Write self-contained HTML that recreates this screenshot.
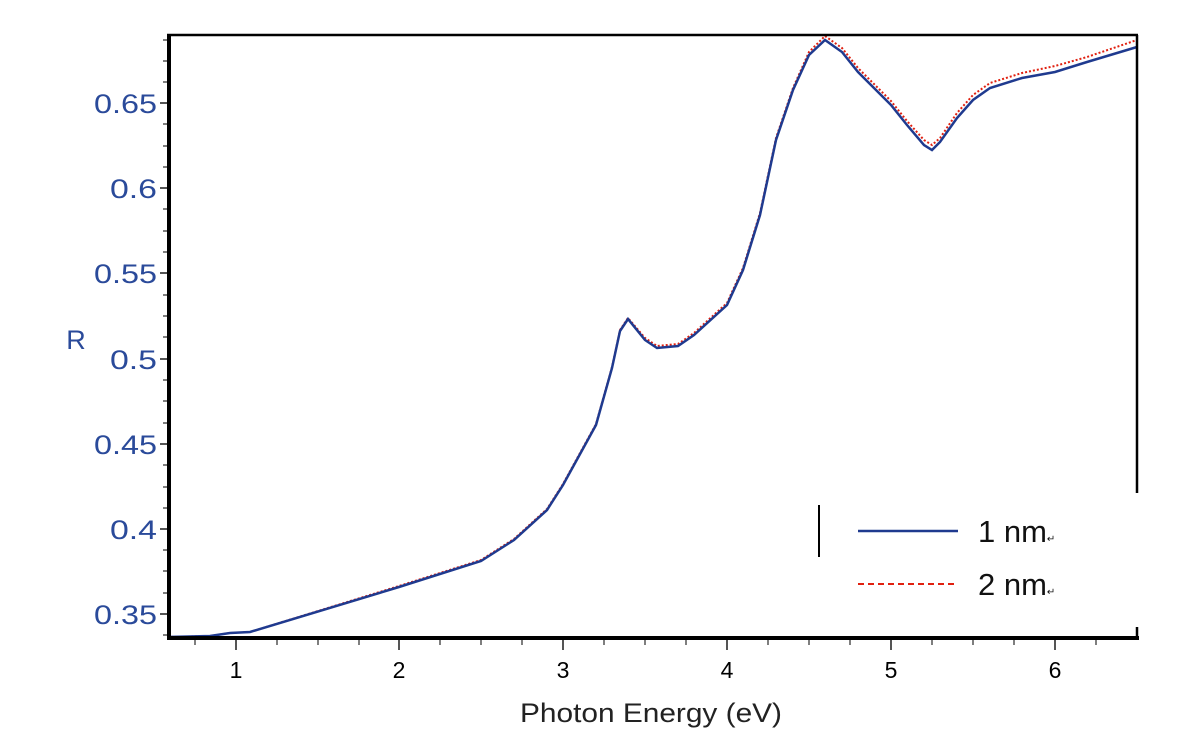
<!DOCTYPE html><html><head><style>body{margin:0;background:#fff}svg{display:block}</style></head><body>
<svg width="1200" height="751" xmlns="http://www.w3.org/2000/svg" font-family="Liberation Sans, Arial, sans-serif">
<rect width="1200" height="751" fill="#fff"/>
<g stroke="#555" stroke-width="2">
<line x1="160" y1="103" x2="169" y2="103"/><line x1="160" y1="188" x2="169" y2="188"/><line x1="160" y1="273" x2="169" y2="273"/><line x1="160" y1="359" x2="169" y2="359"/><line x1="160" y1="444" x2="169" y2="444"/><line x1="160" y1="529" x2="169" y2="529"/><line x1="160" y1="614" x2="169" y2="614"/>
</g>
<g stroke="#555" stroke-width="1.5">
<path d="M163 40H169M163 61H169M163 82H169M163 124H169M163 146H169M163 167H169M163 209H169M163 231H169M163 252H169M163 295H169M163 316H169M163 337H169M163 380H169M163 401H169M163 423H169M163 465H169M163 487H169M163 508H169M163 550H169M163 571H169M163 593H169M163 635H169"/>
<path d="M195 638V645M277 638V645M318 638V645M359 638V645M440 638V645M481 638V645M522 638V645M604 638V645M645 638V645M686 638V645M768 638V645M809 638V645M850 638V645M932 638V645M973 638V645M1014 638V645M1096 638V645"/>
</g>
<g stroke="#555" stroke-width="2"><path d="M236 638V650M399 638V650M563 638V650M727 638V650M891 638V650M1055 638V650"/></g>
<polyline fill="none" stroke="#e02010" stroke-width="2" stroke-dasharray="2,2" points="167,637 210,636 230,633 250,632 399,586 481,560 514,539 547,509 563,484 596,424 612,367 620,330 628,318 645,338 657,346 678,344 694,333 727,303 743,268 760,213 776,138 793,88 809,52 825,36 842,48 858,68 891,101 907,121 924,140 932,145 940,138 957,113 973,95 990,83 1022,73 1055,66 1087,57 1137,40"/>
<polyline fill="none" stroke="#1f3a8f" stroke-width="2.5" points="167,637 210,636 230,633 250,632 399,587 481,561 514,540 547,510 563,485 596,425 612,368 620,331 628,319 645,340 657,348 678,346 694,335 727,305 743,270 760,215 776,140 793,90 809,55 825,40 842,52 858,72 891,105 907,125 924,145 932,150 940,142 957,118 973,100 990,88 1022,78 1055,72 1087,62 1137,47"/>
<line x1="169" y1="35" x2="169" y2="640" stroke="#000" stroke-width="4"/>
<line x1="167" y1="638" x2="1139" y2="638" stroke="#000" stroke-width="4"/>
<line x1="167" y1="35" x2="1138" y2="35" stroke="#000" stroke-width="2.5"/>
<line x1="1137" y1="35" x2="1137" y2="493" stroke="#000" stroke-width="2.5"/>
<line x1="1137" y1="627" x2="1137" y2="638" stroke="#000" stroke-width="2.5"/>
<g fill="#2a4a9a" font-size="27" text-anchor="end">
<text x="157" y="113" textLength="63" lengthAdjust="spacingAndGlyphs">0.65</text><text x="157" y="198" textLength="47" lengthAdjust="spacingAndGlyphs">0.6</text><text x="157" y="283" textLength="63" lengthAdjust="spacingAndGlyphs">0.55</text><text x="157" y="369" textLength="47" lengthAdjust="spacingAndGlyphs">0.5</text><text x="157" y="454" textLength="63" lengthAdjust="spacingAndGlyphs">0.45</text><text x="157" y="539" textLength="47" lengthAdjust="spacingAndGlyphs">0.4</text><text x="157" y="624" textLength="63" lengthAdjust="spacingAndGlyphs">0.35</text>
</g>
<text x="76" y="349" fill="#2a4a9a" font-size="27" text-anchor="middle">R</text>
<g fill="#000" font-size="23" text-anchor="middle">
<text x="236" y="678">1</text><text x="399" y="678">2</text><text x="563" y="678">3</text><text x="727" y="678">4</text><text x="891" y="678">5</text><text x="1055" y="678">6</text>
</g>
<text x="651" y="722" fill="#222" font-size="27" text-anchor="middle" textLength="262" lengthAdjust="spacingAndGlyphs">Photon Energy (eV)</text>
<line x1="819" y1="505" x2="819" y2="557" stroke="#000" stroke-width="2"/>
<line x1="858" y1="531" x2="958" y2="531" stroke="#1f3a8f" stroke-width="2.5"/>
<line x1="858" y1="584" x2="958" y2="584" stroke="#e02010" stroke-width="2" stroke-dasharray="6,4"/>
<text x="978" y="542" font-size="31" fill="#111">1 nm<tspan font-size="10">↵</tspan></text>
<text x="978" y="595" font-size="31" fill="#111">2 nm<tspan font-size="10">↵</tspan></text>
</svg>
</body></html>
